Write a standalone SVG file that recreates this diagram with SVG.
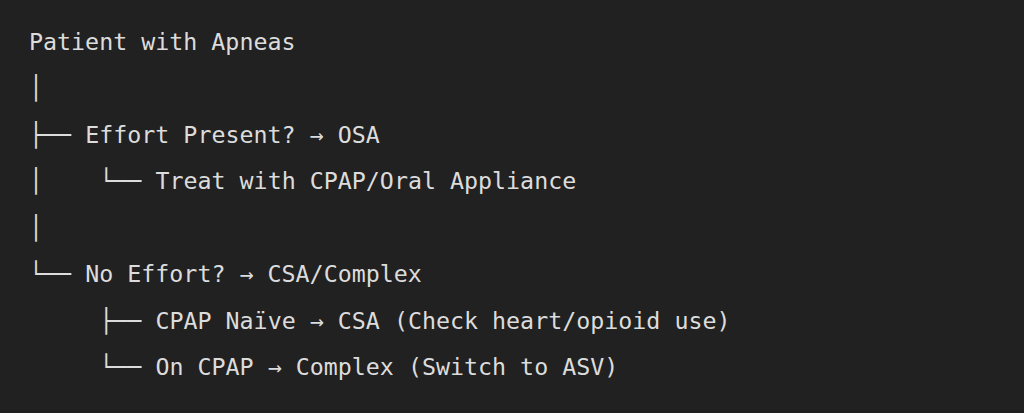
<svg xmlns="http://www.w3.org/2000/svg" width="1024" height="413" viewBox="0 0 1024 413">
<style>
text { font-family: "DejaVu Sans Mono", "Liberation Mono", monospace; font-size: 23.3px; fill: #dcdcdc; white-space: pre; }
</style>
<rect width="1024" height="413" fill="#212121"/>
<g id="connectors" class="tree">
  <text x="29" y="96.4">│</text>
  <text x="29" y="142.9">├──</text>
  <text x="29" y="189.3">│</text>
  <text x="99.25" y="189.3">└──</text>
  <text x="29" y="235.7">│</text>
  <text x="29" y="282.1">└──</text>
  <text x="99.25" y="328.6">├──</text>
  <text x="99.25" y="375">└──</text>
</g>
<g id="node-root"><text x="29" y="50">Patient with Apneas</text></g>
<g id="node-effort"><text x="85.2" y="142.9">Effort Present? → OSA</text></g>
<g id="node-treat"><text x="155.45" y="189.3">Treat with CPAP/Oral Appliance</text></g>
<g id="node-noeffort"><text x="85.2" y="282.1">No Effort? → CSA/Complex</text></g>
<g id="node-naive"><text x="155.45" y="328.6">CPAP Naïve → CSA (Check heart/opioid use)</text></g>
<g id="node-oncpap"><text x="155.45" y="375">On CPAP → Complex (Switch to ASV)</text></g>
</svg>
